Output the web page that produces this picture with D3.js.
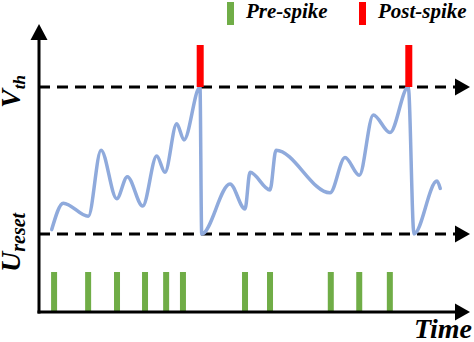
<!DOCTYPE html>
<html>
<head>
<meta charset="utf-8">
<script src="https://cdn.jsdelivr.net/npm/d3@7"></script>
<style>
  body { margin: 0; background: #fff; }
  text { font-family: "Liberation Serif", "Times New Roman", serif; font-weight: bold; font-style: italic; fill: #000; }
</style>
</head>
<body>
<div id="chart"></div>
<script>
// membrane potential trace, time in ms, potential scaled so 0 = U_reset and 1 = V_th
const traceTime = [2.95, 5.64, 11.44, 14.39, 18.03, 20.49, 24.06, 27.31, 29.23, 31.95, 33.64, 37.35, 37.75,
                   44.32, 47.8, 48.96, 53.6, 54.99, 67.52, 71.0, 74.32, 77.56, 81.44, 85.68, 87.0, 92.34, 93.1];
const tracePotential = [0.03, 0.21, 0.12, 0.57, 0.24, 0.39, 0.19, 0.53, 0.42, 0.75, 0.64, 1.0, 0.0,
                        0.34, 0.17, 0.42, 0.3, 0.57, 0.28, 0.52, 0.4, 0.81, 0.69, 1.0, 0.0, 0.36, 0.31];

const preSpikes = [3.5, 11.4, 18.1, 24.6, 29.5, 33.4, 47.8, 53.6, 67.7, 74.3, 81.4];
const postSpikes = [37.4, 85.8];

const legendLabels = ["Pre-spike", "Post-spike"];
const legendColors = ["#70ad47", "#ff0000"];
const thresholdLabels = [["V", "th"], ["U", "reset"]];
const xLabel = "Time";

const W = 474, H = 342;
const axisX = 39, axisBottom = 312, axisTop = 24, axisRight = 470;

const svg = d3.select("#chart")
  .append("svg")
    .attr("width", W)
    .attr("height", H);

const x = d3.scaleLinear().domain([0, 100]).range([axisX, axisRight]);
const y = d3.scaleLinear().domain([0, 1]).range([234, 87]);

// arrow head pointing right / up
function arrowRight(tx, ty) {
  return `M${tx},${ty} L${tx - 15},${ty - 8.5} L${tx - 15},${ty + 8.5} Z`;
}
function arrowUp(tx, ty) {
  return `M${tx},${ty} L${tx - 8.5},${ty + 16} L${tx + 8.5},${ty + 16} Z`;
}

// dashed threshold lines
[1, 0].forEach(v => {
  svg.append("line")
    .attr("x1", axisX).attr("x2", axisRight - 12)
    .attr("y1", y(v)).attr("y2", y(v))
    .attr("stroke", "#000").attr("stroke-width", 3)
    .attr("stroke-dasharray", "11,7");
  svg.append("path").attr("d", arrowRight(axisRight, y(v))).attr("fill", "#000");
});

// membrane potential
const trace = traceTime.map((t, i) => [t, tracePotential[i]]);
svg.append("path")
  .datum(trace)
  .attr("fill", "none")
  .attr("stroke", "#8faadc")
  .attr("stroke-width", 3.5)
  .attr("stroke-linecap", "round")
  .attr("stroke-linejoin", "round")
  .attr("d", d3.line().x(d => x(d[0])).y(d => y(d[1])).curve(d3.curveMonotoneX));

// post-synaptic spikes (at threshold)
svg.selectAll(".post")
  .data(postSpikes)
  .enter()
  .append("rect")
    .attr("x", d => x(d) - 3.5)
    .attr("y", y(1) - 42)
    .attr("width", 7)
    .attr("height", 42)
    .attr("fill", legendColors[1]);

// pre-synaptic spikes on the time axis
svg.selectAll(".pre")
  .data(preSpikes)
  .enter()
  .append("rect")
    .attr("x", d => x(d) - 3)
    .attr("y", axisBottom - 40)
    .attr("width", 6)
    .attr("height", 40)
    .attr("fill", legendColors[0]);

// axes
svg.append("line")
  .attr("x1", axisX).attr("x2", axisX)
  .attr("y1", axisBottom + 1.5).attr("y2", axisTop + 12)
  .attr("stroke", "#000").attr("stroke-width", 3);
svg.append("path").attr("d", arrowUp(axisX, axisTop)).attr("fill", "#000");
svg.append("line")
  .attr("x1", axisX - 1.5).attr("x2", axisRight - 12)
  .attr("y1", axisBottom).attr("y2", axisBottom)
  .attr("stroke", "#000").attr("stroke-width", 3);
svg.append("path").attr("d", arrowRight(axisRight, axisBottom)).attr("fill", "#000");

// axis title
svg.append("text")
  .attr("x", 472).attr("y", 338)
  .attr("text-anchor", "end")
  .style("font-size", "28px")
  .text(xLabel);

// threshold labels (rotated)
[1, 0].forEach((v, i) => {
  const lab = thresholdLabels[i];
  const t = svg.append("text")
    .attr("transform", `translate(20,${y(v) + (i === 0 ? 21 : 38)}) rotate(-90)`)
    .style("font-size", "28px");
  t.append("tspan").text(lab[0]);
  t.append("tspan")
    .attr("dy", 5)
    .style("font-size", i === 0 ? "17px" : "20px")
    .text(lab[1]);
});

// legend
const legendX = [227, 359];
legendLabels.forEach((lab, i) => {
  svg.append("rect")
    .attr("x", legendX[i]).attr("y", 2)
    .attr("width", 7).attr("height", 23)
    .attr("fill", legendColors[i]);
  svg.append("text")
    .attr("x", legendX[i] + 19).attr("y", 18)
    .style("font-size", "21px")
    .text(lab);
});
</script>
</body>
</html>
